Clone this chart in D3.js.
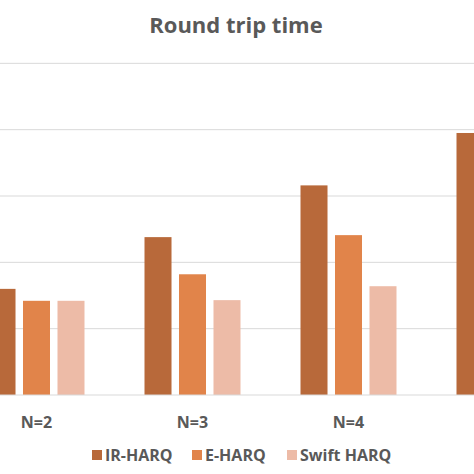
<!DOCTYPE html>
<html><head><meta charset="utf-8">
<script src="https://cdn.jsdelivr.net/npm/d3@7"></script>
<style>body{margin:0;background:#fff}</style>
</head><body><div id="chart"></div>
<script>
var categories = ["N=2", "N=3", "N=4", "N=5"];
var series = ["IR-HARQ", "E-HARQ", "Swift HARQ"];
var irHarq = [1.6, 2.38, 3.16, 3.95];
var eHarq = [1.42, 1.82, 2.41, 3.0];
var swiftHarq = [1.42, 1.43, 1.64, 1.85];
var colors = ["#B8693A", "#E1844A", "#EDBBA7"];

var width = 474, height = 474;
var svg = d3.select("#chart").append("svg").attr("width", width).attr("height", height);

var x = d3.scaleBand().domain(categories).range([-41.5, 582.5]);
var inner = d3.scaleBand().domain(series).range([30, 126]).paddingInner(0.217);
var y = d3.scaleLinear().domain([0, 6]).range([395, -3]);

// gridlines
svg.selectAll("line.grid").data([1, 2, 3, 4, 5]).enter().append("line")
    .attr("x1", 0).attr("x2", width)
    .attr("y1", d => y(d)).attr("y2", d => y(d))
    .attr("stroke", "#d9d9d9").attr("stroke-width", 1);

var rows = categories.map((c, i) => ({ cat: c, vals: [irHarq[i], eHarq[i], swiftHarq[i]] }));
var g = svg.selectAll("g.grp").data(rows).enter().append("g")
    .attr("transform", d => "translate(" + x(d.cat) + ",0)");
g.selectAll("rect").data(d => d.vals.map((v, j) => ({ s: series[j], v: v, j: j }))).enter().append("rect")
    .attr("x", d => inner(d.s)).attr("width", inner.bandwidth())
    .attr("y", d => y(d.v)).attr("height", d => y(0) - y(d.v))
    .attr("fill", d => colors[d.j]);

svg.append("line").attr("x1", 0).attr("x2", width).attr("y1", y(0)).attr("y2", y(0))
    .attr("stroke", "#d9d9d9");

// category labels (only those inside the visible area)
svg.selectAll("text.cat").data(categories.filter(d => x(d) + x.bandwidth() / 2 < width - 20)).enter().append("text")
    .attr("x", d => x(d) + x.bandwidth() / 2).attr("y", 428)
    .attr("text-anchor", "middle").attr("fill", "#595959")
    .attr("font-family", "Open Sans, sans-serif").attr("font-weight", "bold").attr("font-size", 16)
    .text(d => d);

// title
svg.append("text").attr("x", 236).attr("y", 33).attr("text-anchor", "middle")
    .attr("fill", "#595959").attr("font-family", "Open Sans, sans-serif")
    .attr("font-weight", "bold").attr("font-size", 22).text("Round trip time");

// legend
var legX = [92, 192, 287];
var leg = svg.selectAll("g.leg").data(series).enter().append("g")
    .attr("transform", (d, i) => "translate(" + legX[i] + ",450)");
leg.append("rect").attr("width", 10).attr("height", 10).attr("fill", (d, i) => colors[i]);
leg.append("text").attr("x", 13).attr("y", 11).attr("fill", "#595959")
    .attr("font-family", "Open Sans, sans-serif").attr("font-weight", "bold").attr("font-size", 16)
    .text(d => d);
</script></body></html>
